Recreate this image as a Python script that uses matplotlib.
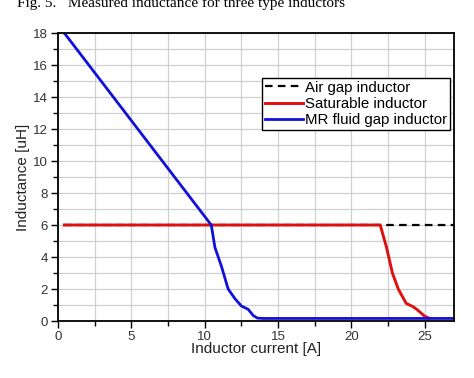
import matplotlib
matplotlib.use("Agg")
import matplotlib.pyplot as plt
from matplotlib.ticker import MultipleLocator

plt.rcParams['font.family'] = ['Liberation Sans', 'DejaVu Sans']

# Air gap inductor (dashed, mostly hidden under red)
air_x = [0.43, 27.0]
air_y = [6.0, 6.0]

# Saturable inductor
sat_x = [0.43, 21.97, 22.4, 22.8, 23.2, 23.74, 24.2, 24.5, 25.0, 25.3]
sat_y = [6.0, 6.0, 4.6, 3.0, 2.0, 1.1, 0.9, 0.7, 0.3, 0.18]

# MR fluid gap inductor
mr_x = [0.43, 10.45, 10.7, 11.15, 11.6, 12.06, 12.5, 12.97, 13.3, 13.6, 14.0, 27.0]
mr_y = [18.0, 6.0, 4.6, 3.4, 2.0, 1.4, 0.94, 0.73, 0.35, 0.18, 0.16, 0.16]

fig = plt.figure(figsize=(4.74, 3.78), dpi=100)
ax = fig.add_axes([58 / 474, 1 - 321 / 378, 396 / 474, 288 / 378])

# caption is cut at the top edge, as in the scanned figure
fig.text(17 / 474, 1 - 7 / 378, "Fig. 5.   Measured inductance for three type inductors",
         family=['Liberation Serif', 'DejaVu Serif'], fontsize=11, va='baseline', ha='left')

ax.plot(air_x, air_y, color='black', lw=1.6, ls=(0, (3.4, 2.4)), label='Air gap inductor')
ax.plot(sat_x, sat_y, color='#e01010', lw=2.1, label='Saturable inductor')
ax.plot(mr_x, mr_y, color='#1010d8', lw=2.0, label='MR fluid gap inductor')

ax.set_xlim(0, 27)
ax.set_ylim(0, 18)
ax.xaxis.set_major_locator(MultipleLocator(5))
ax.xaxis.set_minor_locator(MultipleLocator(2.5))
ax.yaxis.set_major_locator(MultipleLocator(2))
ax.yaxis.set_minor_locator(MultipleLocator(1))
ax.grid(which='both', color='#d0d0d0', lw=0.9)
ax.set_axisbelow(True)

ax.tick_params(which='both', direction='out', top=False, right=False, labelsize=9.5,
               labelcolor='#333333', width=1)
ax.tick_params(which='major', length=5, pad=2.5)
ax.tick_params(which='minor', length=3.5)
for s in ax.spines.values():
    s.set_linewidth(1.3)

ax.set_xlabel("Inductor current [A]", fontsize=11, labelpad=-1, color='#222222')
ax.set_ylabel("Inductance [uH]", fontsize=11, labelpad=2, color='#222222')

leg = ax.legend(loc='upper right', bbox_to_anchor=(0.99, 0.845), fontsize=10.8,
                handlelength=2.5, handletextpad=0.15, borderpad=0.2, labelspacing=0.15,
                borderaxespad=0, fancybox=False, framealpha=1, edgecolor='black')
leg.get_frame().set_linewidth(1.0)

fig.savefig("out.png", dpi=100)
